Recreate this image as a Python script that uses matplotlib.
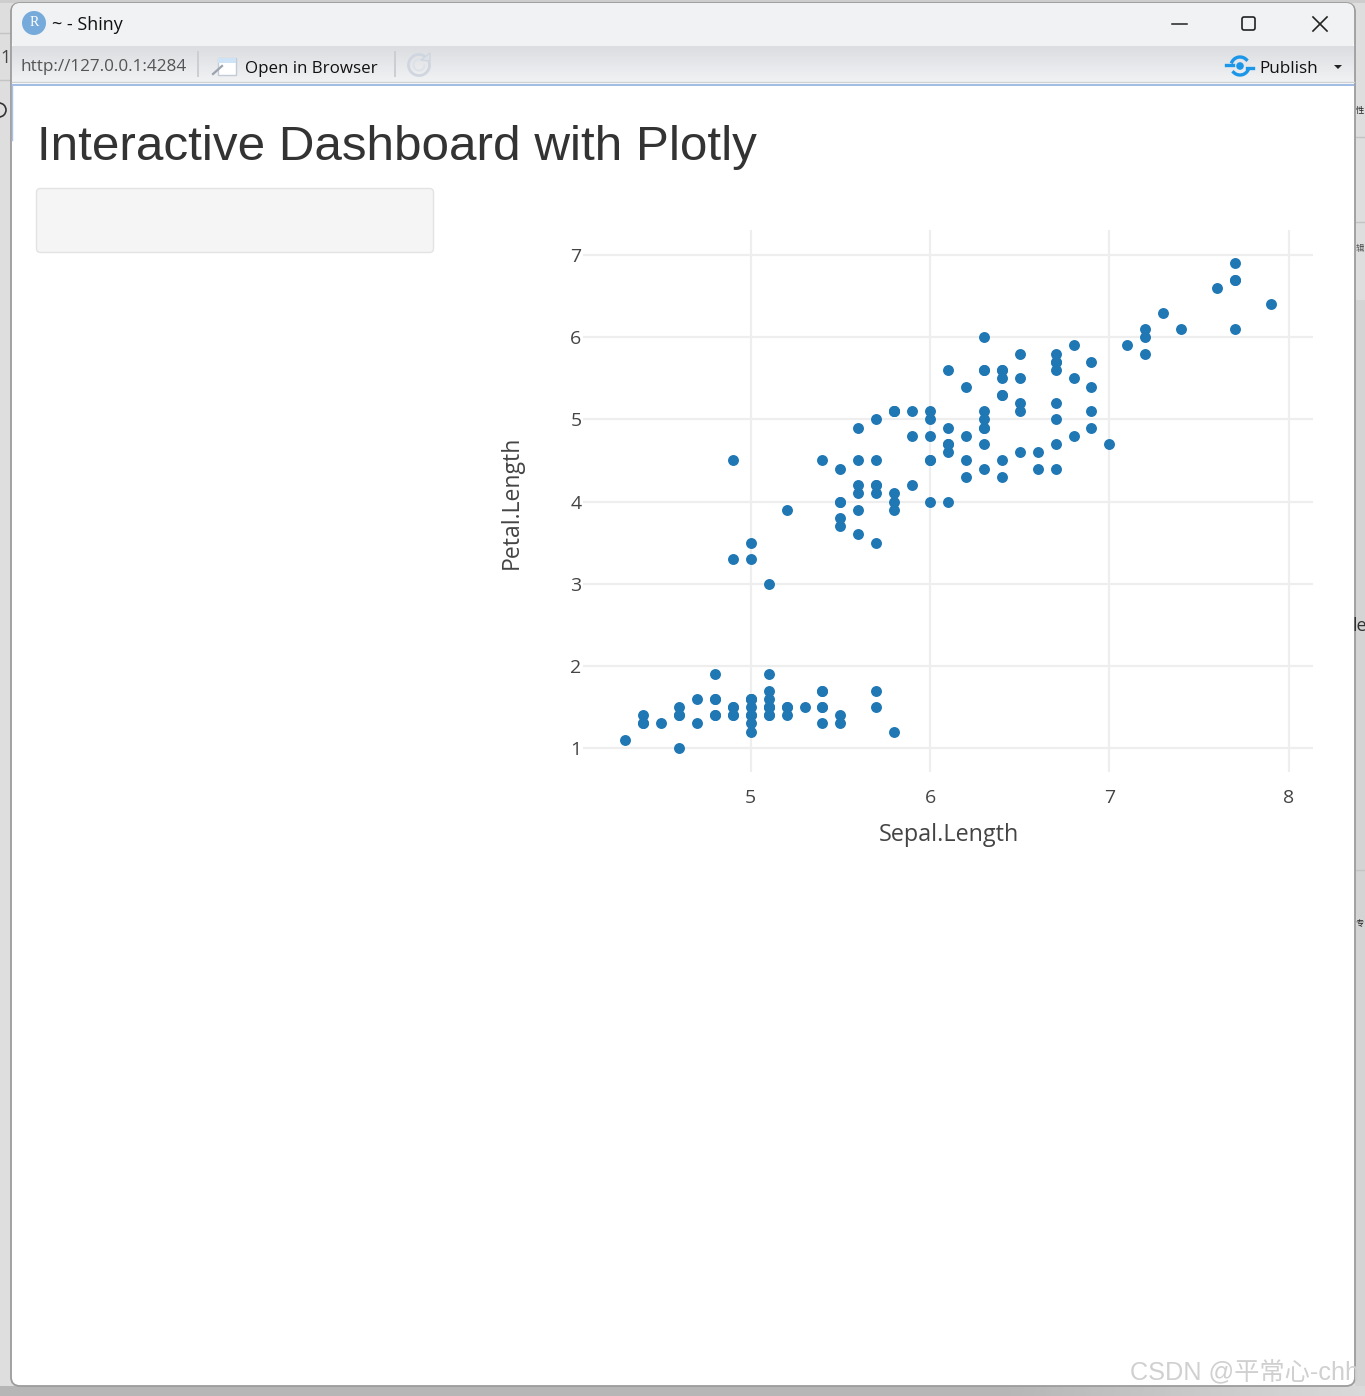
import matplotlib
matplotlib.use("Agg")
import matplotlib.pyplot as plt
from matplotlib.patches import Rectangle, FancyBboxPatch, Circle, Polygon
from matplotlib.colors import LinearSegmentedColormap
import numpy as np

sepal_length = [5.1,4.9,4.7,4.6,5.0,5.4,4.6,5.0,4.4,4.9,5.4,4.8,4.8,4.3,5.8,5.7,5.4,5.1,5.7,5.1,5.4,5.1,4.6,5.1,4.8,5.0,5.0,5.2,5.2,4.7,4.8,5.4,5.2,5.5,4.9,5.0,5.5,4.9,4.4,5.1,5.0,4.5,4.4,5.0,5.1,4.8,5.1,4.6,5.3,5.0,
7.0,6.4,6.9,5.5,6.5,5.7,6.3,4.9,6.6,5.2,5.0,5.9,6.0,6.1,5.6,6.7,5.6,5.8,6.2,5.6,5.9,6.1,6.3,6.1,6.4,6.6,6.8,6.7,6.0,5.7,5.5,5.5,5.8,6.0,5.4,6.0,6.7,6.3,5.6,5.5,5.5,6.1,5.8,5.0,5.6,5.7,5.7,6.2,5.1,5.7,
6.3,5.8,7.1,6.3,6.5,7.6,4.9,7.3,6.7,7.2,6.5,6.4,6.8,5.7,5.8,6.4,6.5,7.7,7.7,6.0,6.9,5.6,7.7,6.3,6.7,7.2,6.2,6.1,6.4,7.2,7.4,7.9,6.4,6.3,6.1,7.7,6.3,6.4,6.0,6.9,6.7,6.9,5.8,6.8,6.7,6.7,6.3,6.5,6.2,5.9]
petal_length = [1.4,1.4,1.3,1.5,1.4,1.7,1.4,1.5,1.4,1.5,1.5,1.6,1.4,1.1,1.2,1.5,1.3,1.4,1.7,1.5,1.7,1.5,1.0,1.7,1.9,1.6,1.6,1.5,1.4,1.6,1.6,1.5,1.5,1.4,1.5,1.2,1.3,1.4,1.3,1.5,1.3,1.3,1.3,1.6,1.9,1.4,1.6,1.4,1.5,1.4,
4.7,4.5,4.9,4.0,4.6,4.5,4.7,3.3,4.6,3.9,3.5,4.2,4.0,4.7,3.6,4.4,4.5,4.1,4.5,3.9,4.8,4.0,4.9,4.7,4.3,4.4,4.8,5.0,4.5,3.5,3.8,3.7,3.9,5.1,4.5,4.5,4.7,4.4,4.1,4.0,4.4,4.6,4.0,3.3,4.2,4.2,4.2,4.3,3.0,4.1,
6.0,5.1,5.9,5.6,5.8,6.6,4.5,6.3,5.8,6.1,5.1,5.3,5.5,5.0,5.1,5.3,5.5,6.7,6.9,5.0,5.7,4.9,6.7,4.9,5.7,6.0,4.8,4.9,5.6,5.8,6.1,6.4,5.6,5.1,5.6,6.1,5.6,5.5,4.8,5.4,5.6,5.1,5.1,5.9,5.7,5.2,5.0,5.2,5.4,5.1]
x_ticks = [5, 6, 7, 8]
y_ticks = [1, 2, 3, 4, 5, 6, 7]

W, H = 1365, 1396
UI = ["Open Sans", "DejaVu Sans"]
CJK = ["Noto Sans CJK SC", "DejaVu Sans"]
fig = plt.figure(figsize=(W/100, H/100), dpi=100, facecolor="white")

# Window chrome, in pixel coordinates
bg = fig.add_axes([0, 0, 1, 1], zorder=0)
bg.set_xlim(0, W); bg.set_ylim(H, 0); bg.axis("off")
bg.add_patch(Rectangle((0, 0), W, H, fc="#dedede", ec="none", zorder=0))
bg.add_patch(Rectangle((0, 0), W, 3, fc="#cdcdcd", ec="none", zorder=0))
bg.add_patch(Rectangle((1355, 300), 10, 1096, fc="#d4d4d4", ec="none", zorder=0))
bg.add_patch(Rectangle((0, 1386), 1000, 10, fc="#b6b6b6", ec="none", zorder=0))
bottom = np.linspace(0, 1, 64).reshape(1, -1)
cm_b = LinearSegmentedColormap.from_list("b", ["#b6b6b6", "#dadada"])
bg.imshow(bottom, extent=(1000, 1365, 1396, 1386), cmap=cm_b, aspect="auto", zorder=0)
bg.set_xlim(0, W); bg.set_ylim(H, 0)
for yy in (33, 80):
    bg.plot([0, 11], [yy, yy], color="#c4c4c4", lw=1, zorder=0.2)
for yy in (137, 222, 870):
    bg.plot([1356, 1365], [yy, yy], color="#c4c4c4", lw=1, zorder=0.2)
# clipped neighbours of the window
bg.text(0, 58, "19", color="#444444", fontsize=13, family=UI, ha="left", va="center", zorder=0.5)
bg.add_patch(Circle((-1, 110), 7, fc="none", ec="#333333", lw=1.2, zorder=0.5))
bg.text(1356, 110, "性", color="#222222", fontsize=6, family=CJK, ha="left", va="center", zorder=0.5)
bg.text(1356, 248, "辑", color="#555555", fontsize=6, family=CJK, ha="left", va="center", zorder=0.5)
bg.text(1353, 626, "le", color="#333333", fontsize=13, family=UI, ha="left", va="center", zorder=2)
bg.text(1356, 924, "专", color="#222222", fontsize=6, family=CJK, ha="left", va="center", zorder=0.5)
bg.add_patch(FancyBboxPatch((11, 3), 1344, 1383, boxstyle="round,pad=0,rounding_size=9",
                            fc="white", ec="#9c9c9c", lw=1.3, zorder=1))
bg.add_patch(FancyBboxPatch((12, 3), 1342, 46, boxstyle="round,pad=0,rounding_size=8",
                            fc="#f1f2f4", ec="none", zorder=1))
grad = np.linspace(0, 1, 36).reshape(-1, 1)
cm = LinearSegmentedColormap.from_list("t", ["#dcdde0", "#f1f2f4"])
bg.imshow(grad, extent=(12, 1354, 82, 46), cmap=cm, aspect="auto", zorder=1)
bg.set_xlim(0, W); bg.set_ylim(H, 0)
bg.plot([12, 1354], [81.5, 81.5], color="#cfd0d3", lw=1, zorder=2)
bg.plot([12, 1354], [84.5, 84.5], color="#86a9dd", lw=1.1, zorder=2)
bg.plot([12, 12], [85, 140], color="#a9c1e6", lw=1, zorder=2)
for xx in (198, 395):
    bg.plot([xx, xx], [52, 76], color="#cdced1", lw=1.4, zorder=2)
# R icon
bg.add_patch(Circle((34, 23), 12, fc="#75aadb", ec="none", zorder=3))
bg.text(34, 23, "R", color="white", fontsize=10, family="Liberation Serif", ha="center", va="center", zorder=4)
bg.text(52, 25, "~ - Shiny", color="#111111", fontsize=13, family=UI, ha="left", va="center", zorder=4)
bg.text(21, 67, "http://127.0.0.1:4284", color="#555555", fontsize=12.3, family=UI, ha="left", va="center", zorder=4)
bg.text(245, 69, "Open in Browser", color="#111111", fontsize=12.2, family=UI, ha="left", va="center", zorder=4)
bg.text(1259, 69, "Publish", color="#111111", fontsize=12.3, family=UI, ha="left", va="center", zorder=4)
# open-in-browser icon
bg.add_patch(Rectangle((218, 58), 18, 17, fc="white", ec="#c3cbd6", lw=1, zorder=3))
bg.add_patch(Rectangle((218, 58), 18, 5, fc="#cfe3f7", ec="none", zorder=3))
bg.plot([213, 222], [74, 66], color="#9aa3ad", lw=1.6, zorder=4)
# refresh icon
t = np.linspace(-0.3, 2 * np.pi - 1.1, 60)
bg.plot(419 + 10.5 * np.cos(t), 65 + 10.5 * np.sin(t), color="#cfd6df", lw=2, zorder=3)
t2 = np.linspace(0.1, 2 * np.pi - 1.3, 50)
bg.plot(419 + 5.5 * np.cos(t2), 65 + 5.5 * np.sin(t2), color="#dde2e8", lw=1.4, zorder=3)
bg.add_patch(Polygon([(421, 60), (430, 53), (430, 61)], fc="#dde2e8", ec="#cfd6df", lw=1, zorder=3))
# publish icon
t = np.linspace(np.pi * 1.15, np.pi * 1.75, 30)
bg.plot(1240 + 9 * np.cos(t), 66 + 9 * np.sin(t), color="#1c96e8", lw=2.4, zorder=3)
t = np.linspace(np.pi * 0.15, np.pi * 0.75, 30)
bg.plot(1240 + 9 * np.cos(t), 66 + 9 * np.sin(t), color="#1c96e8", lw=2.4, zorder=3)
bg.plot([1226, 1233], [64.5, 64.5], color="#1c96e8", lw=2.4, zorder=3)
bg.plot([1247, 1253], [67.5, 67.5], color="#1c96e8", lw=2.4, zorder=3)
bg.add_patch(Circle((1240, 66), 3.8, fc="#1c96e8", ec="none", zorder=3))
bg.add_patch(Polygon([(1334, 65), (1342, 65), (1338, 69)], fc="#222222", ec="none", zorder=3))
# window buttons
bg.plot([1172, 1187], [23.5, 23.5], color="#222222", lw=1.1, zorder=3)
bg.add_patch(FancyBboxPatch((1242, 17), 13, 13, boxstyle="round,pad=0,rounding_size=2",
                            fc="none", ec="#222222", lw=1.2, zorder=3))
bg.plot([1313, 1327], [17, 31], color="#222222", lw=1.2, zorder=3)
bg.plot([1313, 1327], [31, 17], color="#222222", lw=1.2, zorder=3)

# Page content
bg.text(37, 148, "Interactive Dashboard with Plotly", color="#333333", fontsize=35.55,
        family="Liberation Sans", ha="left", va="center", zorder=4)
bg.add_patch(FancyBboxPatch((36.5, 188.5), 397, 64, boxstyle="round,pad=0,rounding_size=4",
                            fc="#f5f5f5", ec="#e3e3e3", lw=1, zorder=3))

# Scatter panel: pixel box 583..1313 x 230..772
L, R, T, B = 583, 1313, 230, 772
ax = fig.add_axes([L/W, 1 - B/H, (R-L)/W, (B-T)/H], zorder=2)
ax.patch.set_alpha(0)
ax.scatter(sepal_length, petal_length, s=62, color="#1f77b4", linewidths=0, zorder=3, clip_on=False)
ax.set_xlim(4.0645, 8.1352)
ax.set_ylim(0.709, 7.305)
ax.set_xticks(x_ticks); ax.set_yticks(y_ticks)
ax.grid(True, color="#eeeeee", lw=1.6)
ax.set_axisbelow(True)
for s in ax.spines.values():
    s.set_visible(False)
ax.tick_params(length=0, labelsize=14, labelcolor="#444444", pad=0)
for lab in ax.get_xticklabels() + ax.get_yticklabels():
    lab.set_family(UI)
ax.tick_params(axis="x", pad=12.3)
ax.tick_params(axis="y", pad=1)
ax.set_xlabel("Sepal.Length", fontsize=16.8, color="#444444", family=UI)
ax.set_ylabel("Petal.Length", fontsize=16.6, color="#444444", family=UI)
ax.yaxis.label.set_va("center")
ax.xaxis.label.set_va("center")
ax.yaxis.set_label_coords((512-L)/(R-L), (B-502)/(B-T), transform=ax.transAxes)
ax.xaxis.set_label_coords((948.5-L)/(R-L), -(835-B)/(B-T), transform=ax.transAxes)

# Watermark
top = fig.add_axes([0, 0, 1, 1], zorder=5)
top.set_xlim(0, W); top.set_ylim(H, 0); top.axis("off"); top.patch.set_alpha(0)
top.text(1130, 1373, "CSDN @平常心-chh", color="#d0d0d0", fontsize=18.2,
         family=["Liberation Sans", "Noto Sans CJK SC", "DejaVu Sans"], ha="left", va="center")

fig.savefig("out.png", dpi=100)
